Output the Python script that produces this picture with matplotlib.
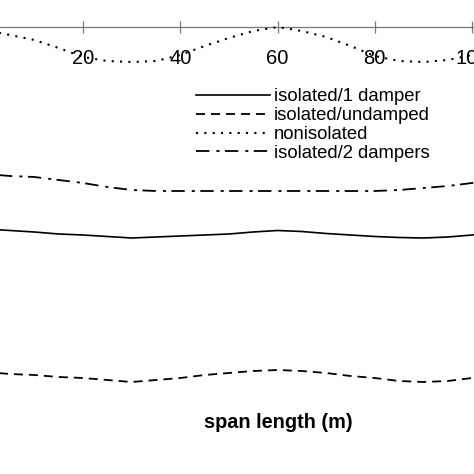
import matplotlib.pyplot as plt

plt.rcParams['font.family'] = ['Liberation Sans', 'DejaVu Sans']

span = [0, 5, 10, 15, 20, 25, 30, 35, 40, 45, 50, 55, 60, 65, 70, 75, 80, 85, 90, 95, 100, 105]
one_damper = [-20.2, -20.35, -20.5, -20.7, -20.8, -20.95, -21.1, -21.0, -20.9, -20.8, -20.7,
              -20.5, -20.35, -20.45, -20.65, -20.8, -20.95, -21.05, -21.1, -21.0, -20.8, -20.6]
undamped = [-34.5, -34.7, -34.8, -35.0, -35.1, -35.3, -35.5, -35.3, -35.1, -34.8, -34.6,
            -34.4, -34.3, -34.4, -34.6, -34.9, -35.1, -35.4, -35.5, -35.4, -35.1, -34.8]
nonisolated = [-0.3, -0.8, -1.3, -2.1, -3.0, -3.4, -3.5, -3.4, -2.8, -1.9, -1.1,
               -0.4, 0.0, -0.4, -1.0, -1.9, -2.9, -3.4, -3.5, -3.3, -2.8, -2.3]
two_dampers = [-14.7, -14.9, -15.0, -15.3, -15.6, -16.0, -16.3, -16.4, -16.4, -16.4, -16.4,
               -16.4, -16.4, -16.4, -16.4, -16.4, -16.4, -16.3, -16.1, -15.9, -15.6, -15.3]
xticks = [20, 40, 60, 80, 100]

fig = plt.figure(figsize=(4.74, 4.74), dpi=100)
ax = fig.add_axes([0, 0, 1, 1])

ax.plot(span, one_damper, color='black', lw=1.2, label='isolated/1 damper')
ax.plot(span, undamped, color='black', lw=1.3, dashes=(5.0, 3.3), label='isolated/undamped')
ax.plot(span, nonisolated, color='black', lw=1.5, dashes=(1.0, 3.0), label='nonisolated')
ax.plot(span, two_dampers, color='black', lw=1.3, dashes=(7.4, 3.9, 1.7, 3.0),
        label='isolated/2 dampers')

ax.set_xlim(2.93, 100.4)
ax.set_ylim(-44.7, 2.7)

# axis line through zero, others hidden
for s in ['top', 'left', 'right']:
    ax.spines[s].set_visible(False)
ax.spines['bottom'].set_position(('data', 0))
ax.spines['bottom'].set_color('#777777')
ax.spines['bottom'].set_linewidth(0.9)
ax.spines['bottom'].set_zorder(0)
ax.set_yticks([])
ax.set_xticks(xticks)
ax.tick_params(axis='x', direction='inout', length=9, width=0.9, color='#777777',
               labelsize=14.5, pad=11)

ax.text(0.587, 0.108, 'span length (m)', transform=ax.transAxes, ha='center', va='center',
        fontsize=14.3, fontweight='bold')

ax.legend(loc='upper left', bbox_to_anchor=(0.395, 0.833), frameon=False, fontsize=13.3,
          handlelength=4.0, handletextpad=0.2, labelspacing=0.1, borderpad=0)

plt.savefig('out.png')
